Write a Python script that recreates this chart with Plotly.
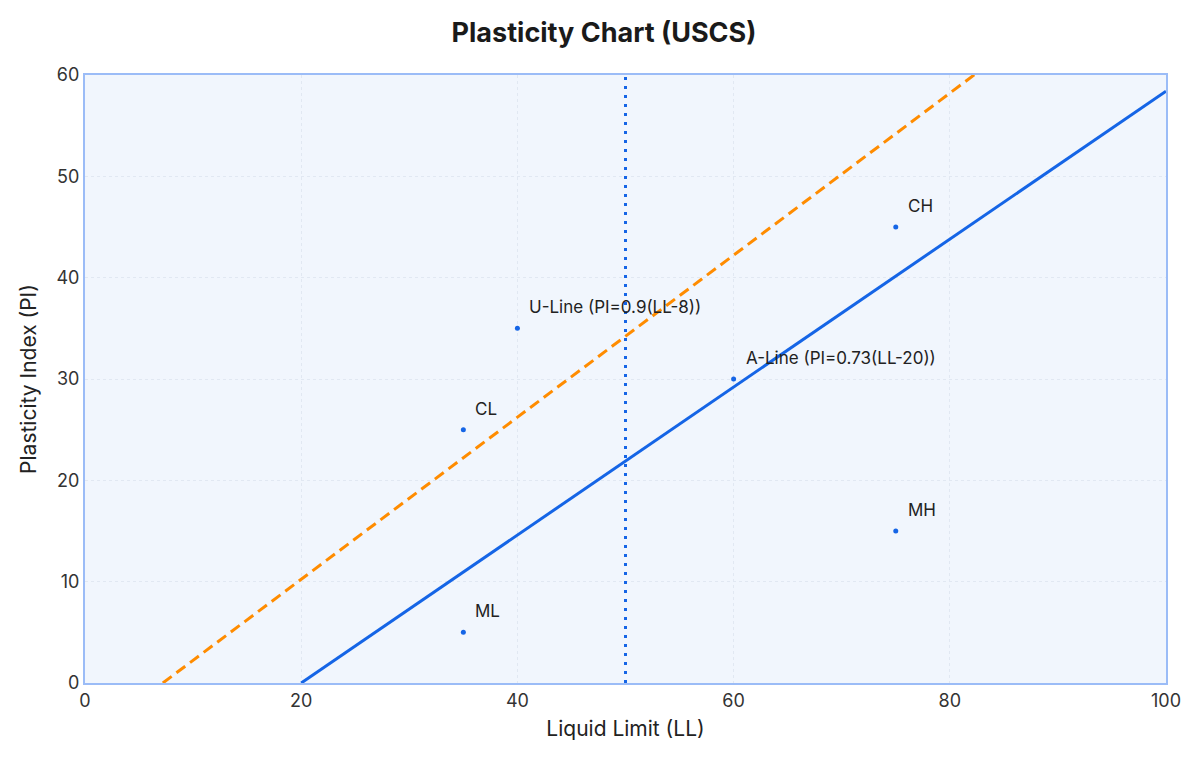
import plotly.graph_objects as go

# A-line and U-line
a_ll = [20, 100]
a_pi = [0, 58.4]
u_ll = [7.2, 100]
u_pi = [0, 74.2]

# LL = 50 boundary
b_ll = [50, 50]
b_pi = [0, 60]

# labelled points
pt_ll = [35, 35, 75, 75, 40, 60]
pt_pi = [25, 5, 45, 15, 35, 30]
pt_txt = ["CL", "ML", "CH", "MH", "U-Line (PI=0.9(LL-8))", "A-Line (PI=0.73(LL-20))"]

BLUE = "#1565e6"
ORANGE = "#ff8c00"
FONT = "Inter, Lato, sans-serif"

fig = go.Figure()
fig.add_trace(go.Scatter(x=u_ll, y=u_pi, mode="lines",
                         line=dict(color=ORANGE, width=3, dash="11px,6px"),
                         showlegend=False, hoverinfo="skip"))
fig.add_trace(go.Scatter(x=a_ll, y=a_pi, mode="lines",
                         line=dict(color=BLUE, width=3),
                         showlegend=False, hoverinfo="skip"))
fig.add_trace(go.Scatter(x=b_ll, y=b_pi, mode="lines",
                         line=dict(color=BLUE, width=3, dash="3px,6px"),
                         showlegend=False, hoverinfo="skip"))
fig.add_trace(go.Scatter(x=pt_ll, y=pt_pi, mode="markers",
                         marker=dict(color=BLUE, size=5),
                         showlegend=False))

# labels sit up and right of each point
for x, y, t in zip(pt_ll, pt_pi, pt_txt):
    fig.add_annotation(x=x, y=y, text=t, showarrow=False,
                       xanchor="left", yanchor="bottom", xshift=10, yshift=9,
                       font=dict(size=17, color="#222222", family=FONT))

axis = dict(showline=True, linecolor="#9bbcf7", linewidth=2, mirror=True,
            gridcolor="#e1e8f2", griddash="dot", zeroline=False,
            ticks="", tickfont=dict(size=18, color="#333333"),
            title_font=dict(size=21, color="#222222"))

# page body adds 8px, so the figure is 8px smaller
fig.update_layout(
    width=1192, height=752,
    margin=dict(l=77, r=34, t=67, b=77),
    paper_bgcolor="white", plot_bgcolor="#f1f6fd",
    font=dict(family=FONT, color="#222222"),
    title=dict(text="<b>Plasticity Chart (USCS)</b>", x=0.5, xanchor="center",
               y=0.968, yanchor="middle", font=dict(size=27, color="#1a1a1a")),
    xaxis=dict(axis, range=[0, 100], dtick=20, title_text="Liquid Limit (LL)",
               title_standoff=12),
    yaxis=dict(axis, range=[0, 60], dtick=10, title_text="Plasticity Index (PI)",
               title_standoff=14),
)

fig.write_html("out.html")
